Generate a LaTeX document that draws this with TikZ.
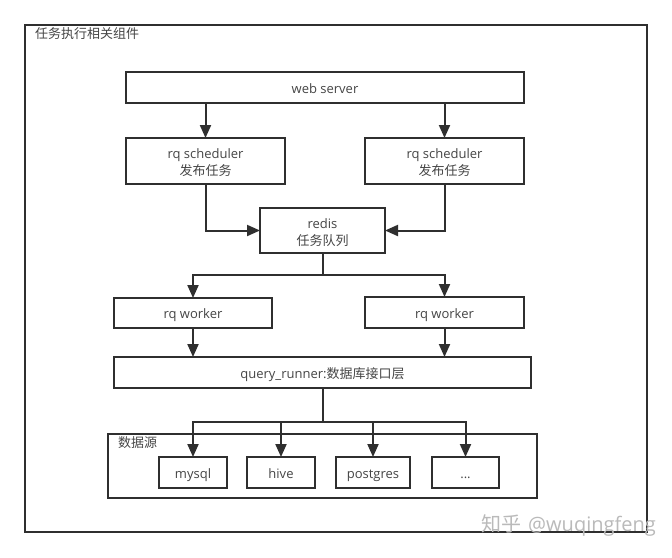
\documentclass[tikz,border=0pt]{standalone}
\usepackage{fontspec}
\setmainfont{Open Sans}
\newfontfamily\cjk{Noto Sans CJK SC}
\usetikzlibrary{arrows.meta}
\definecolor{linecol}{HTML}{2F2F2F}
\definecolor{textcol}{HTML}{454545}
\newcommand{\twolines}[2]{\rule{0pt}{13.5pt}#1\\{\cjk #2}}
\tikzset{
    box/.style={draw=linecol, line width=1.8pt, fill=white, inner sep=0pt, outer sep=0pt, align=center, text=textcol, font=\fontsize{13}{17}\selectfont},
    oneline/.style={box, text height=14pt, text depth=2.6pt},
    frame/.style={draw=linecol, line width=1.9pt, inner sep=0pt, outer sep=0pt},
    title/.style={text=textcol, inner sep=0pt, anchor=west, font=\fontsize{13}{16}\selectfont\cjk},
    link/.style={draw=linecol, line width=2pt},
    arr/.style={link, -{Triangle[length=13pt,width=11pt]}}
}
\begin{document}
\begin{tikzpicture}[x=1pt, y=-1pt]
    \useasboundingbox[fill=white] (0,0) rectangle (672,557);

    \node[frame, minimum width=622pt, minimum height=507pt] (outer) at (336,278.5) {};
    \node[title] (outertitle) at (35,34) {任务执行相关组件};

    \node[oneline, minimum width=398pt, minimum height=31pt] (web) at (325,87.5) {web server};
    \node[box, minimum width=159pt, minimum height=46pt] (sched1) at (205.5,161) {\twolines{rq scheduler}{发布任务}};
    \node[box, minimum width=159pt, minimum height=46pt] (sched2) at (444.5,161) {\twolines{rq scheduler}{发布任务}};
    \node[box, minimum width=125pt, minimum height=45pt] (redis) at (322.5,230.5) {\twolines{redis}{任务队列}};
    \node[oneline, minimum width=158pt, minimum height=30pt] (worker1) at (193,313) {rq worker};
    \node[oneline, minimum width=159pt, minimum height=31pt] (worker2) at (444.5,312.5) {rq worker};
    \node[oneline, minimum width=417pt, minimum height=31pt] (query) at (322.5,372.5) {query\_runner:{\cjk 数据库接口层}};

    \node[frame, minimum width=429pt, minimum height=64pt] (source) at (322.5,466) {};
    \node[title] (sourcetitle) at (118,442.5) {数据源};
    \node[oneline, minimum width=68pt, minimum height=31pt] (mysql) at (193,472.5) {mysql};
    \node[oneline, minimum width=68pt, minimum height=31pt] (hive) at (281,472.5) {hive};
    \node[oneline, minimum width=74pt, minimum height=31pt] (postgres) at (373,472.5) {postgres};
    \node[oneline, minimum width=67pt, minimum height=31pt] (more) at (465.5,472.5) {...};

    \draw[arr] (sched1.north |- web.south) -- (sched1.north);
    \draw[arr] (sched2.north |- web.south) -- (sched2.north);
    \draw[arr] (sched1.south) |- (redis.west);
    \draw[arr] (sched2.south) |- (redis.east);

    \coordinate (split1) at (322.5,275);
    \draw[link] (redis.south) -- (split1);
    \draw[arr] (split1) -| (worker1.north);
    \draw[arr] (split1) -| (worker2.north);
    \draw[arr] (worker1.south) -- (worker1.south |- query.north);
    \draw[arr] (worker2.south) -- (worker2.south |- query.north);

    \coordinate (split2) at (322.5,422);
    \draw[link] (query.south) -- (split2);
    \foreach \db in {mysql,hive,postgres,more} {
        \draw[arr] (split2) -| (\db.north);
    }

    \node[inner sep=0pt, anchor=west, text=black!27, font=\fontsize{20}{20}\selectfont] (mark) at (481,525) {{\cjk 知乎}\hspace{7pt}@wuqingfeng};
\end{tikzpicture}
\end{document}
